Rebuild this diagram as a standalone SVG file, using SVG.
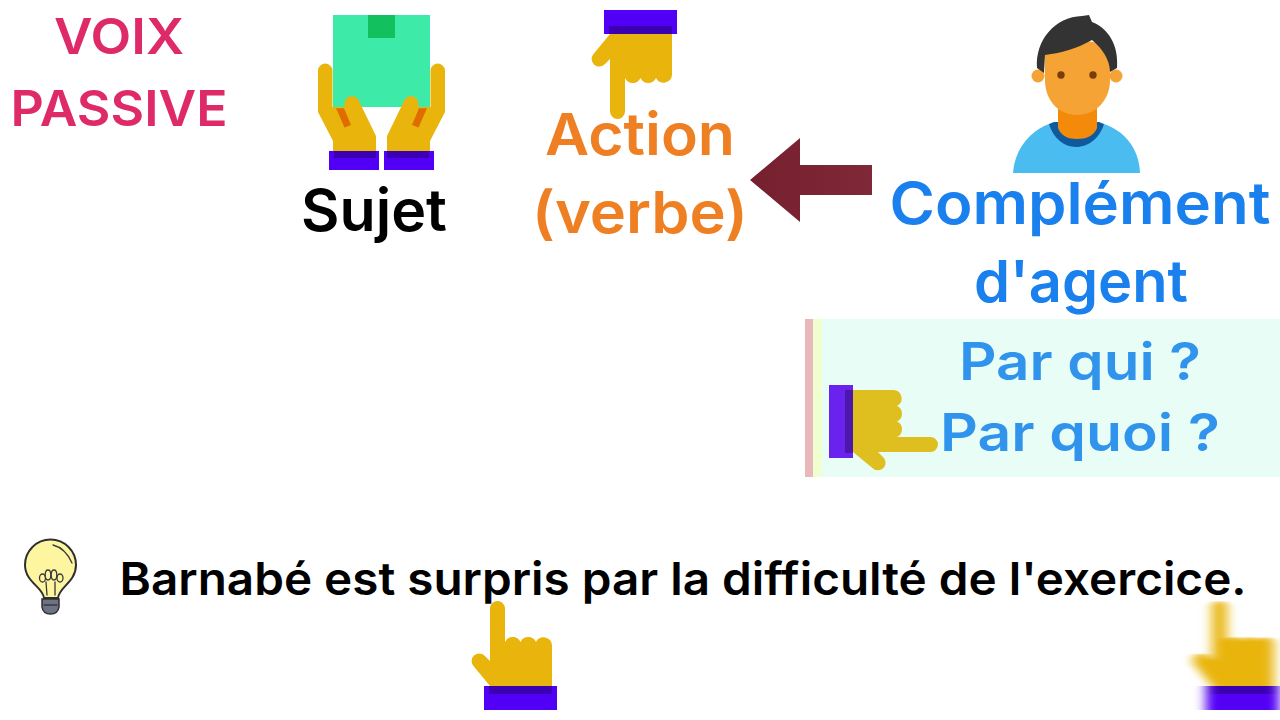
<svg xmlns="http://www.w3.org/2000/svg" width="1280" height="720" viewBox="0 0 1280 720">
<style>
text{font-family:Inter,"DM Sans","Liberation Sans",sans-serif;text-anchor:middle;font-weight:600}
.title{fill:#de2a68;font-size:50px}
.big{font-size:58px}
.act{fill:#ee7f22}.comp{fill:#1a80ee}.par{fill:#3094ec;font-size:52px}
.sent{font-size:45px;fill:#000}
.hand{fill:#e9b50c;color:#5200f5}
.hand2{fill:#dfbf20;color:#6a22ee}
.bulbline{fill:none;stroke:#3a3a3a;stroke-width:1.300;stroke-linecap:round}
</style>
<defs>
<g id="pointer">
<path d="M490 608.500a7.500 7.500 0 0 1 15 0V642a8.500 8.500 0 0 1 15.500 0a8.500 8.500 0 0 1 15.500 0a8.500 8.500 0 0 1 16 3V686H490L473.500 666a7.500 7.500 0 0 1 11.500 -10L490 661Z"/>
<rect x="484" y="686" width="73" height="24" fill="currentColor"/>
<rect x="489" y="686" width="63" height="8" fill="#000" opacity=".28"/>
</g>
<filter id="mblur" x="-30%" y="-5%" width="160%" height="110%"><feGaussianBlur stdDeviation="6 0.600"/></filter>
<linearGradient id="arrowfill" x1="0" y1="0" x2="1" y2="0"><stop offset="0" stop-color="#76202f"/><stop offset="1" stop-color="#7f2838"/></linearGradient>
<g id="lefthand">
<path fill="#e9b50c" d="M318 70a7.300 7.300 0 0 1 14.500 0V107H344.500V104a7.500 7.500 0 0 1 14.500 -3L376 136V151H333V141L318 112Z"/>
<path fill="#e06c00" d="M336 108.300H344L351 125L344.500 127.500Z"/>
<rect x="329" y="151" width="50" height="19" fill="#5200f5"/>
<rect x="334" y="151" width="42" height="7" fill="#000" opacity=".28"/>
</g>
</defs>
<rect width="1280" height="720" fill="#fff"/>

<g id="title">
<text class="title" x="119" y="54" textLength="130" lengthAdjust="spacingAndGlyphs">VOIX</text>
<text class="title" x="119" y="126" textLength="217" lengthAdjust="spacingAndGlyphs">PASSIVE</text>
</g>

<g id="sujet">
<rect x="333" y="15" width="97" height="92" fill="#3eeaa8"/>
<rect x="368" y="15" width="27" height="23" fill="#12c05e"/>
<use href="#lefthand"/>
<use href="#lefthand" transform="translate(763 0) scale(-1 1)"/>
<text class="big" x="374" y="231" fill="#000" textLength="146" lengthAdjust="spacingAndGlyphs">Sujet</text>
</g>

<g id="action">
<use href="#pointer" class="hand" transform="translate(120 720) scale(1 -1)"/>
<text class="big act" x="640" y="155" textLength="190" lengthAdjust="spacingAndGlyphs">Action</text>
<text class="big act" x="640" y="233" textLength="216" lengthAdjust="spacingAndGlyphs">(verbe)</text>
</g>

<g id="connectors">
<path d="M750 180L800 138V165H872V195H800V222Z" fill="url(#arrowfill)"/>
</g>

<g id="complement">
<path d="M1013 173C1015 146 1033 130 1049 124H1104C1122 130 1139 146 1140 173Z" fill="#4bbcf0"/>
<path d="M1049 124L1054 122H1099L1104 124C1100 138 1088 147 1076 147C1064 147 1053 138 1049 124Z" fill="#0f5a9e"/>
<path d="M1058 105H1097V128C1094 136 1086 139 1077 139C1068 139 1061 136 1058 128Z" fill="#f48a0a"/>
<circle cx="1038" cy="76" r="6.500" fill="#f5a335"/>
<circle cx="1116" cy="76" r="6.500" fill="#f5a335"/>
<path d="M1045 45C1050 38 1104 38 1110 50V80C1110 100 1096 115 1077 115C1058 115 1045 100 1045 80Z" fill="#f5a335"/>
<path d="M1044 73L1037 68C1035 40 1055 17 1082 16L1089 15L1092 22C1108 28 1119 45 1117 68L1110 72C1110 60 1102 48 1092 40C1078 48 1062 53 1045 55Z" fill="#333"/>
<circle cx="1061" cy="75" r="3.700" fill="#7a3d0a"/>
<circle cx="1093" cy="75" r="3.700" fill="#7a3d0a"/>
<text class="big comp" x="1080" y="224" textLength="381" lengthAdjust="spacingAndGlyphs">Complément</text>
<text class="big comp" x="1081" y="302" textLength="214" lengthAdjust="spacingAndGlyphs">d'agent</text>
</g>

<g id="question">
<rect x="822" y="319" width="458" height="158" fill="#e9fdf7"/>
<rect x="813" y="319" width="9" height="158" fill="#efffd0"/>
<rect x="805" y="319" width="8" height="158" fill="#e8b8bc"/>
<text class="par" x="1080" y="380" textLength="242" lengthAdjust="spacingAndGlyphs">Par qui ?</text>
<text class="par" x="1080" y="451" textLength="280" lengthAdjust="spacingAndGlyphs">Par quoi ?</text>
<use href="#pointer" class="hand2" transform="matrix(0 -1 -1 0 1539 942)"/>
</g>

<g id="bulb">
<path d="M44 598C43 587 25 582 25 565A25.500 25.500 0 0 1 76 565C76 582 59 587 58 598Z" fill="#fdf5a0" stroke="#2f2f2f" stroke-width="2"/>
<path d="M42 599H59V607Q58 614 50.500 614Q43 614 42 607Z" fill="#6b7385" stroke="#2f2f2f" stroke-width="1.500"/>
<path class="bulbline" d="M44 605H57M53 545C61 547 68 554 72 563"/>
<path class="bulbline" d="M47 595L46 582M55 595L55 582"/>
<ellipse class="bulbline" cx="42.500" cy="578" rx="3" ry="4"/>
<ellipse class="bulbline" cx="48" cy="575" rx="2.800" ry="5"/>
<ellipse class="bulbline" cx="54" cy="575" rx="2.800" ry="5"/>
<ellipse class="bulbline" cx="60" cy="578" rx="3" ry="4"/>
</g>

<g id="sentence">
<text class="sent" x="683" y="595" textLength="1127" lengthAdjust="spacingAndGlyphs">Barnabé est surpris par la difficulté de l'exercice.</text>
</g>

<g id="hand-bottom">
<use href="#pointer" class="hand"/>
</g>
<g id="hand-moving" filter="url(#mblur)">
<use href="#pointer" class="hand" transform="translate(722 0)"/>
</g>
</svg>
